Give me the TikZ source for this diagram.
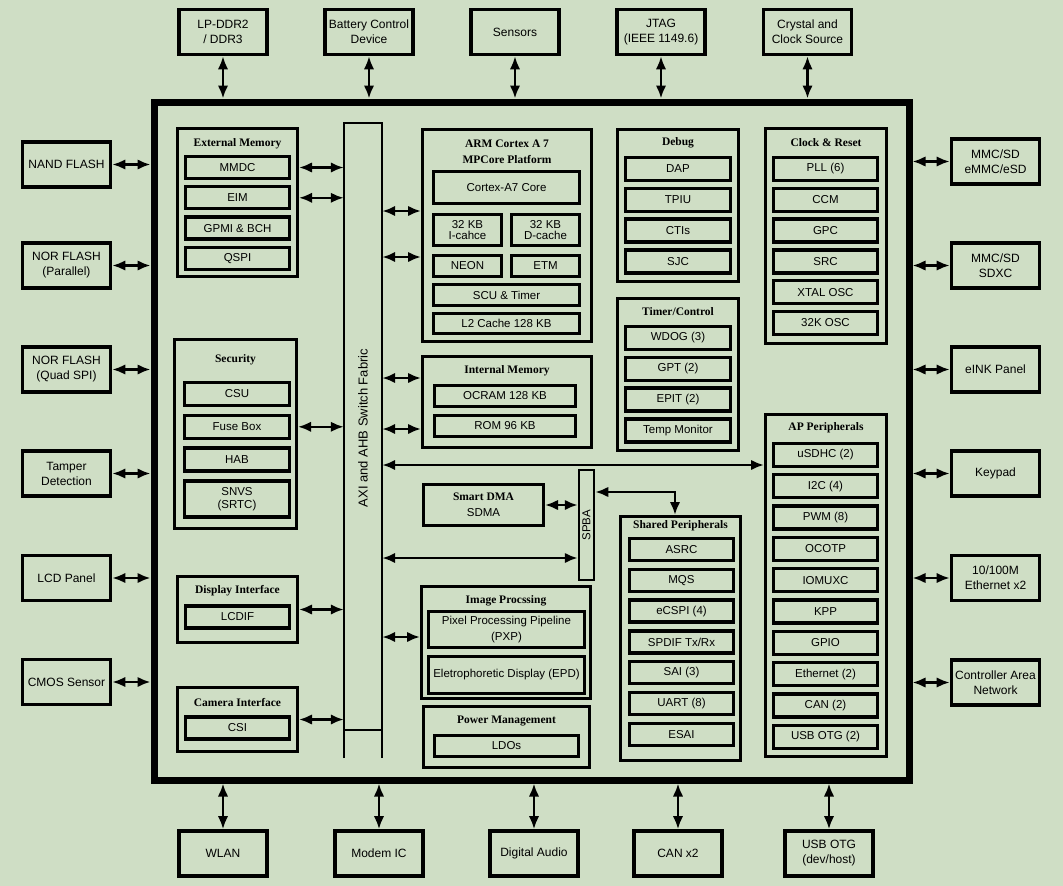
\documentclass[tikz,border=0pt]{standalone}
\usepackage{fontspec}
\setmainfont{Liberation Sans}
\newfontfamily\titleserif{Liberation Serif}
\usetikzlibrary{positioning}
\usetikzlibrary{arrows.meta}
\definecolor{boardbg}{RGB}{207,222,197}

\begin{document}
\begin{tikzpicture}[x=1pt,y=-1pt,
    extbox/.style={draw, line width=3.7pt, minimum width=88pt, minimum height=45pt, inner sep=1pt, align=center, font=\fontsize{12}{15}\selectfont},
    group/.style={draw, line width=3pt, inner sep=0pt},
    item/.style={draw, line width=3.3pt, minimum width=104pt, minimum height=22pt, inner sep=1pt, align=center, font=\fontsize{11.5}{13}\selectfont},
    grouptitle/.style={font=\titleserif\bfseries\fontsize{11.5}{16.5}\selectfont, align=center, inner sep=0pt},
    biarrow/.style={{Latex[length=13pt,width=10.5pt]}-{Latex[length=13pt,width=10.5pt]}, line width=2.5pt},
    busline/.style={line width=2pt}]
		\fill[boardbg] (0,0) rectangle (1063,886);
		\node[draw, line width=7pt, minimum width=755pt, minimum height=678pt] (soc) at (531.5,441) {};

		% outside devices
		\node[extbox] (lpddr) at (223,32) {LP-DDR2\\/ DDR3};
		\node[extbox] (battery) at (369,32) {Battery Control\\Device};
		\node[extbox] (sensors) at (515,32) {Sensors};
		\node[extbox] (jtag) at (661,32) {JTAG\\(IEEE 1149.6)};
		\node[extbox] (crystal) at (807.5,32) {Crystal and\\Clock Source};
		\node[extbox] (nand) at (66.5,164.5) {NAND FLASH};
		\node[extbox] (norpar) at (66.5,265.5) {NOR FLASH\\(Parallel)};
		\node[extbox] (norqspi) at (66.5,369.5) {NOR FLASH\\(Quad SPI)};
		\node[extbox] (tamper) at (66.5,473.5) {Tamper\\Detection};
		\node[extbox] (lcdpanel) at (66.5,578) {LCD Panel};
		\node[extbox] (cmos) at (66.5,682) {CMOS Sensor};
		\node[extbox] (emmc) at (995.5,161.5) {MMC/SD\\eMMC/eSD};
		\node[extbox] (sdxc) at (995.5,265.5) {MMC/SD\\SDXC};
		\node[extbox] (eink) at (995.5,369.5) {eINK Panel};
		\node[extbox] (keypad) at (995.5,473.5) {Keypad};
		\node[extbox] (ethext) at (995.5,578) {10/100M\\Ethernet x2};
		\node[extbox] (canext) at (995.5,682.5) {Controller Area\\Network};
		\node[extbox] (wlan) at (223,853.5) {WLAN};
		\node[extbox] (modem) at (379,853.5) {Modem IC};
		\node[extbox] (audio) at (534,853.5) {Digital Audio};
		\node[extbox] (canx2) at (678,853.5) {CAN x2};
		\node[extbox] (usbext) at (829,853.5) {USB OTG\\(dev/host)};
		\draw[biarrow] (lpddr.south) -- (lpddr.south |- soc.north);
		\draw[biarrow] (battery.south) -- (battery.south |- soc.north);
		\draw[biarrow] (sensors.south) -- (sensors.south |- soc.north);
		\draw[biarrow] (jtag.south) -- (jtag.south |- soc.north);
		\draw[biarrow] (crystal.south) -- (crystal.south |- soc.north);
		\draw[biarrow] (nand.east) -- (nand.east -| soc.west);
		\draw[biarrow] (norpar.east) -- (norpar.east -| soc.west);
		\draw[biarrow] (norqspi.east) -- (norqspi.east -| soc.west);
		\draw[biarrow] (tamper.east) -- (tamper.east -| soc.west);
		\draw[biarrow] (lcdpanel.east) -- (lcdpanel.east -| soc.west);
		\draw[biarrow] (cmos.east) -- (cmos.east -| soc.west);
		\draw[biarrow] (emmc.west) -- (emmc.west -| soc.east);
		\draw[biarrow] (sdxc.west) -- (sdxc.west -| soc.east);
		\draw[biarrow] (eink.west) -- (eink.west -| soc.east);
		\draw[biarrow] (keypad.west) -- (keypad.west -| soc.east);
		\draw[biarrow] (ethext.west) -- (ethext.west -| soc.east);
		\draw[biarrow] (canext.west) -- (canext.west -| soc.east);
		\draw[biarrow] (wlan.north) -- (wlan.north |- soc.south);
		\draw[biarrow] (modem.north) -- (modem.north |- soc.south);
		\draw[biarrow] (audio.north) -- (audio.north |- soc.south);
		\draw[biarrow] (canx2.north) -- (canx2.north |- soc.south);
		\draw[biarrow] (usbext.north) -- (usbext.north |- soc.south);

		% switch fabric
		\node[minimum width=38pt, minimum height=635pt, inner sep=0pt] (bus) at (363,440.5) {};
		\draw[busline] (bus.south west) -- (bus.north west) -- (bus.north east) -- (bus.south east);
		\coordinate (busbar) at (363,730);
		\draw[busline] (busbar -| bus.west) -- (busbar -| bus.east);
		\node[rotate=90, font=\fontsize{13}{15}\selectfont] (buslabel) at (363,428) {AXI and AHB Switch Fabric};

		\node[group, minimum width=120pt, minimum height=148pt] (extmem) at (237.5,202.5) {};
		\node[grouptitle] (extmemt) at (237.5,144) {External Memory};
		\node[item] (mmdc) at (237.5,167.5) {MMDC};
		\node[item, below=5pt of mmdc] (eim) {EIM};
		\node[item, below=5pt of eim] (gpmi) {GPMI \& BCH};
		\node[item, below=5pt of gpmi] (qspi) {QSPI};
		\draw[biarrow] (extmem.east |- mmdc) -- (mmdc -| bus.west);
		\draw[biarrow] (extmem.east |- eim) -- (eim -| bus.west);

		\node[group, minimum width=122pt, minimum height=189pt] (security) at (235.5,434) {};
		\node[grouptitle] (securityt) at (235.5,360) {Security};
		\node[item, minimum width=105pt, minimum height=23pt] (csu) at (237,394) {CSU};
		\node[item, minimum width=105pt, minimum height=23pt, below=6.5pt of csu] (fusebox) {Fuse Box};
		\node[item, minimum width=105pt, minimum height=23pt, below=6.5pt of fusebox] (hab) {HAB};
		\node[item, minimum width=105pt, minimum height=36pt, below=6.5pt of hab] (snvs) {SNVS\\(SRTC)};
		\draw[biarrow] (security.east |- fusebox) -- (fusebox -| bus.west);

		\node[group, minimum width=120pt, minimum height=66pt] (disp) at (237.5,609.5) {};
		\node[grouptitle] (dispt) at (237.5,591) {Display Interface};
		\node[item] (lcdif) at (237.5,617) {LCDIF};
		\draw[biarrow] (disp.east) -- (disp.east -| bus.west);

		\node[group, minimum width=120pt, minimum height=64pt] (cam) at (237.5,719.5) {};
		\node[grouptitle] (camt) at (237.5,702) {Camera Interface};
		\node[item] (csi) at (237.5,728) {CSI};
		\draw[biarrow] (cam.east) -- (cam.east -| bus.west);

		% core side
		\node[group, minimum width=169pt, minimum height=212pt] (arm) at (507,235.5) {};
		\node[grouptitle] (armt) at (507,151.5) {ARM Cortex A 7\\MPCore Platform};
		\node[item, minimum width=146pt, minimum height=32pt] (a7core) at (506.5,187.5) {Cortex-A7 Core};
		\node[item, minimum width=68pt, minimum height=31pt, font=\fontsize{11.5}{11}\selectfont] (icache) at (467.5,230) {32 KB\\I-cahce};
		\node[item, minimum width=68pt, minimum height=31pt, font=\fontsize{11.5}{11}\selectfont] (dcache) at (545.5,230) {32 KB\\D-cache};
		\node[item, minimum width=68pt, minimum height=21pt] (neon) at (467.5,266) {NEON};
		\node[item, minimum width=68pt, minimum height=21pt] (etm) at (545.5,266) {ETM};
		\node[item, minimum width=146pt, minimum height=21pt] (scu) at (506.5,295) {SCU \& Timer};
		\node[item, minimum width=146pt, minimum height=20pt] (l2) at (506.5,323.5) {L2 Cache 128 KB};
		\draw[biarrow] ([yshift=24.5pt]arm.west -| bus.east) -- ([yshift=24.5pt]arm.west);
		\draw[biarrow] ([yshift=-21.5pt]arm.west -| bus.east) -- ([yshift=-21.5pt]arm.west);

		\node[group, minimum width=169pt, minimum height=91pt] (intmem) at (507,402) {};
		\node[grouptitle] (intmemt) at (507,371) {Internal Memory};
		\node[item, minimum width=141pt, minimum height=21pt] (ocram) at (505,396) {OCRAM 128 KB};
		\node[item, minimum width=141pt, minimum height=21pt] (rom) at (505,426) {ROM 96 KB};
		\draw[biarrow] ([yshift=24pt]intmem.west -| bus.east) -- ([yshift=24pt]intmem.west);
		\draw[biarrow] ([yshift=-27pt]intmem.west -| bus.east) -- ([yshift=-27pt]intmem.west);

		\node[group, minimum width=121pt, minimum height=152pt] (debug) at (678,205.5) {};
		\node[grouptitle] (debugt) at (678,143) {Debug};
		\node[item, minimum width=105pt, minimum height=23pt] (dap) at (678,169) {DAP};
		\node[item, minimum width=105pt, minimum height=23pt, below=4.5pt of dap] (tpiu) {TPIU};
		\node[item, minimum width=105pt, minimum height=23pt, below=4.5pt of tpiu] (ctis) {CTIs};
		\node[item, minimum width=105pt, minimum height=23pt, below=4.5pt of ctis] (sjc) {SJC};

		\node[group, minimum width=121pt, minimum height=152pt] (timer) at (678,374.5) {};
		\node[grouptitle] (timert) at (678,312) {Timer/Control};
		\node[item, minimum width=105pt, minimum height=23pt] (wdog) at (678,338) {WDOG (3)};
		\node[item, minimum width=105pt, minimum height=23pt, below=4.5pt of wdog] (gpt) {GPT (2)};
		\node[item, minimum width=105pt, minimum height=23pt, below=4.5pt of gpt] (epit) {EPIT (2)};
		\node[item, minimum width=105pt, minimum height=23pt, below=4.5pt of epit] (tempmon) {Temp Monitor};

		\node[group, minimum width=121pt, minimum height=215pt] (clock) at (826,236) {};
		\node[grouptitle] (clockt) at (826,143) {Clock \& Reset};
		\node[item, minimum height=23pt] (pll) at (825.5,169) {PLL (6)};
		\node[item, minimum height=23pt, below=4.5pt of pll] (ccm) {CCM};
		\node[item, minimum height=23pt, below=4.5pt of ccm] (gpc) {GPC};
		\node[item, minimum height=23pt, below=4.5pt of gpc] (src) {SRC};
		\node[item, minimum height=23pt, below=4.5pt of src] (xtal) {XTAL OSC};
		\node[item, minimum height=23pt, below=4.5pt of xtal] (osc32k) {32K OSC};

		\node[group, minimum width=121pt, minimum height=342pt] (ap) at (826,585.5) {};
		\node[grouptitle] (apt) at (826,428) {AP Peripherals};
		\node[item, minimum height=23pt] (usdhc) at (825.5,455) {uSDHC (2)};
		\node[item, minimum height=23pt, below=5pt of usdhc] (i2c) {I2C (4)};
		\node[item, minimum height=23pt, below=5pt of i2c] (pwm) {PWM (8)};
		\node[item, minimum height=23pt, below=5pt of pwm] (ocotp) {OCOTP};
		\node[item, minimum height=23pt, below=5pt of ocotp] (iomuxc) {IOMUXC};
		\node[item, minimum height=23pt, below=5pt of iomuxc] (kpp) {KPP};
		\node[item, minimum height=23pt, below=5pt of kpp] (gpio) {GPIO};
		\node[item, minimum height=23pt, below=5pt of gpio] (enet) {Ethernet (2)};
		\node[item, minimum height=23pt, below=5pt of enet] (flexcan) {CAN (2)};
		\node[item, minimum height=23pt, below=5pt of flexcan] (usbotg) {USB OTG (2)};
		\draw[biarrow] ([yshift=120.5pt]ap.west -| bus.east) -- ([yshift=120.5pt]ap.west);

		% SPBA side
		\node[group, minimum width=120pt, minimum height=41pt] (sdma) at (483.5,505) {};
		\node[grouptitle] (sdmat) at (483.5,497) {Smart DMA};
		\node[font=\fontsize{11.5}{13}\selectfont] (sdmal) at (483.5,513) {SDMA};
		\node[draw, line width=2.5pt, minimum width=15pt, minimum height=110pt, inner sep=0pt] (spba) at (586.5,525) {};
		\node[rotate=90, font=\fontsize{11.5}{13}\selectfont] (spbal) at (spba) {SPBA};
		\draw[biarrow] (sdma.east) -- (sdma.east -| spba.west);
		\draw[biarrow] ([yshift=-33pt]spba.west -| bus.east) -- ([yshift=-33pt]spba.west);

		\node[group, minimum width=120pt, minimum height=244pt] (shared) at (680.5,638.5) {};
		\node[grouptitle] (sharedt) at (680.5,526) {Shared Peripherals};
		\node[item] (asrc) at (681.5,549.5) {ASRC};
		\node[item, below=5.5pt of asrc] (mqs) {MQS};
		\node[item, below=5.5pt of mqs] (ecspi) {eCSPI (4)};
		\node[item, below=5.5pt of ecspi] (spdif) {SPDIF Tx/Rx};
		\node[item, below=5.5pt of spdif] (sai) {SAI (3)};
		\node[item, below=5.5pt of sai] (uart) {UART (8)};
		\node[item, below=5.5pt of uart] (esai) {ESAI};
		\draw[biarrow] ([yshift=33pt]spba.east) -| ([xshift=-5.5pt]shared.north);

		\node[group, minimum width=169pt, minimum height=112pt] (imgproc) at (506,642.5) {};
		\node[grouptitle] (imgproct) at (506,601) {Image Procssing};
		\node[item, minimum width=156pt, minimum height=36pt, font=\fontsize{11.5}{16}\selectfont] (pxp) at (506.5,629.5) {Pixel Processing Pipeline\\(PXP)};
		\node[item, minimum width=156pt, minimum height=37pt] (epd) at (506.5,675) {Eletrophoretic Display (EPD)};
		\draw[biarrow] ([yshift=5.5pt]imgproc.west -| bus.east) -- ([yshift=5.5pt]imgproc.west);

		\node[group, minimum width=166pt, minimum height=61pt] (power) at (506.5,737) {};
		\node[grouptitle] (powert) at (506.5,721) {Power Management};
		\node[item, minimum width=144pt, minimum height=21pt] (ldos) at (506.5,746) {LDOs};
\end{tikzpicture}
\end{document}
